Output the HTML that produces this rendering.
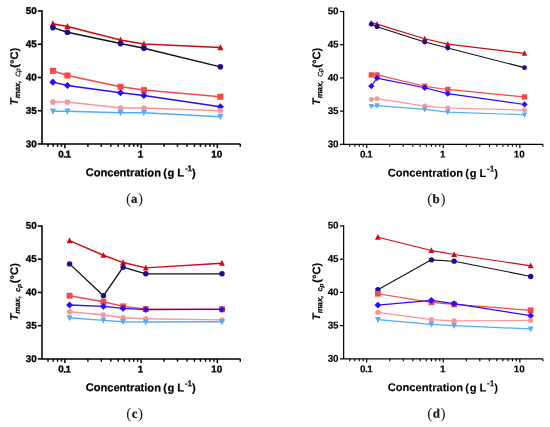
<!DOCTYPE html>
<html><head><meta charset="utf-8"><title>Figure</title>
<style>
html,body{margin:0;padding:0;background:#fff;}
body{width:550px;height:427px;overflow:hidden;}
svg{display:block;font-family:"Liberation Sans",sans-serif;}
</style></head><body>
<svg width="550" height="427" viewBox="0 0 550 427" stroke-linejoin="round">
<rect width="550" height="427" fill="#fff"/>
<g id="pa"><polyline points="52.90,23.76 67.43,26.56 120.51,39.98 143.91,44.04 220.36,47.56" fill="none" stroke="#cf0a14" stroke-width="1.52"/>
<polygon points="52.90,20.31 55.92,26.41 49.87,26.41" fill="#cf0a14"/>
<polygon points="67.43,23.10 70.45,29.20 64.40,29.20" fill="#cf0a14"/>
<polygon points="120.51,36.53 123.53,42.63 117.49,42.63" fill="#cf0a14"/>
<polygon points="143.91,40.58 146.94,46.68 140.89,46.68" fill="#cf0a14"/>
<polygon points="220.36,44.11 223.39,50.21 217.34,50.21" fill="#cf0a14"/>
<polyline points="52.90,27.62 67.43,32.27 120.51,43.57 143.91,48.23 220.36,66.84" fill="none" stroke="#111111" stroke-width="1.44"/>
<circle cx="52.90" cy="27.62" r="2.81" fill="#1d0c94"/>
<circle cx="67.43" cy="32.27" r="2.81" fill="#1d0c94"/>
<circle cx="120.51" cy="43.57" r="2.81" fill="#1d0c94"/>
<circle cx="143.91" cy="48.23" r="2.81" fill="#1d0c94"/>
<circle cx="220.36" cy="66.84" r="2.81" fill="#1d0c94"/>
<polyline points="52.90,70.83 67.43,75.48 120.51,86.78 143.91,90.11 220.36,96.75" fill="none" stroke="#f64848" stroke-width="1.52"/>
<rect x="49.87" y="67.80" width="6.05" height="6.05" fill="#f64848"/>
<rect x="64.40" y="72.46" width="6.05" height="6.05" fill="#f64848"/>
<rect x="117.49" y="83.76" width="6.05" height="6.05" fill="#f64848"/>
<rect x="140.89" y="87.08" width="6.05" height="6.05" fill="#f64848"/>
<rect x="217.34" y="93.73" width="6.05" height="6.05" fill="#f64848"/>
<polyline points="52.90,82.13 67.43,85.45 120.51,92.76 143.91,95.42 220.36,106.72" fill="none" stroke="#2b0cfa" stroke-width="1.52"/>
<polygon points="52.90,78.56 56.46,82.13 52.90,85.69 49.33,82.13" fill="#2b0cfa"/>
<polygon points="67.43,81.89 70.99,85.45 67.43,89.02 63.86,85.45" fill="#2b0cfa"/>
<polygon points="120.51,89.20 124.07,92.76 120.51,96.33 116.95,92.76" fill="#2b0cfa"/>
<polygon points="143.91,91.86 147.48,95.42 143.91,98.99 140.35,95.42" fill="#2b0cfa"/>
<polygon points="220.36,103.16 223.93,106.72 220.36,110.29 216.80,106.72" fill="#2b0cfa"/>
<polyline points="52.90,102.07 67.43,102.07 120.51,108.05 143.91,108.05 220.36,110.71" fill="none" stroke="#fd9498" stroke-width="1.52"/>
<circle cx="52.90" cy="102.07" r="2.81" fill="#fd9498"/>
<circle cx="67.43" cy="102.07" r="2.81" fill="#fd9498"/>
<circle cx="120.51" cy="108.05" r="2.81" fill="#fd9498"/>
<circle cx="143.91" cy="108.05" r="2.81" fill="#fd9498"/>
<circle cx="220.36" cy="110.71" r="2.81" fill="#fd9498"/>
<polyline points="52.90,111.24 67.43,111.24 120.51,112.71 143.91,112.71 220.36,116.70" fill="none" stroke="#55acf8" stroke-width="1.52"/>
<polygon points="52.90,114.81 55.92,108.60 49.87,108.60" fill="#55acf8"/>
<polygon points="67.43,114.81 70.45,108.60 64.40,108.60" fill="#55acf8"/>
<polygon points="120.51,116.27 123.53,110.06 117.49,110.06" fill="#55acf8"/>
<polygon points="143.91,116.27 146.94,110.06 140.89,110.06" fill="#55acf8"/>
<polygon points="220.36,120.26 223.39,114.05 217.34,114.05" fill="#55acf8"/>
<path d="M42.00,10.20 V143.95 H240.30" fill="none" stroke="#000" stroke-width="1.6"/>
<path d="M37.80,143.95 H42.00" stroke="#000" stroke-width="1.6"/>
<text x="36.60" y="147.22" transform="rotate(0.3 36.60 147.22)" text-anchor="end" font-size="9.8" font-weight="bold" stroke="#000" stroke-width="0.35">30</text>
<path d="M37.80,110.71 H42.00" stroke="#000" stroke-width="1.6"/>
<text x="36.60" y="113.92" transform="rotate(0.3 36.60 113.92)" text-anchor="end" font-size="9.8" font-weight="bold" stroke="#000" stroke-width="0.35">35</text>
<path d="M37.80,77.47 H42.00" stroke="#000" stroke-width="1.6"/>
<text x="36.60" y="80.62" transform="rotate(0.3 36.60 80.62)" text-anchor="end" font-size="9.8" font-weight="bold" stroke="#000" stroke-width="0.35">40</text>
<path d="M37.80,44.24 H42.00" stroke="#000" stroke-width="1.6"/>
<text x="36.60" y="47.33" transform="rotate(0.3 36.60 47.33)" text-anchor="end" font-size="9.8" font-weight="bold" stroke="#000" stroke-width="0.35">45</text>
<path d="M37.80,11.00 H42.00" stroke="#000" stroke-width="1.6"/>
<text x="36.60" y="14.03" transform="rotate(0.3 36.60 14.03)" text-anchor="end" font-size="9.8" font-weight="bold" stroke="#000" stroke-width="0.35">50</text>
<path d="M48.03,143.95 V146.81" stroke="#000" stroke-width="1.52"/>
<path d="M53.14,143.95 V146.81" stroke="#000" stroke-width="1.52"/>
<path d="M57.56,143.95 V146.81" stroke="#000" stroke-width="1.52"/>
<path d="M61.45,143.95 V146.81" stroke="#000" stroke-width="1.52"/>
<path d="M64.94,143.95 V148.15" stroke="#000" stroke-width="1.60"/>
<path d="M87.88,143.95 V146.81" stroke="#000" stroke-width="1.52"/>
<path d="M101.30,143.95 V146.81" stroke="#000" stroke-width="1.52"/>
<path d="M110.82,143.95 V146.81" stroke="#000" stroke-width="1.52"/>
<path d="M118.21,143.95 V146.81" stroke="#000" stroke-width="1.52"/>
<path d="M124.24,143.95 V146.81" stroke="#000" stroke-width="1.52"/>
<path d="M129.35,143.95 V146.81" stroke="#000" stroke-width="1.52"/>
<path d="M133.76,143.95 V146.81" stroke="#000" stroke-width="1.52"/>
<path d="M137.66,143.95 V146.81" stroke="#000" stroke-width="1.52"/>
<path d="M141.15,143.95 V148.15" stroke="#000" stroke-width="1.60"/>
<path d="M164.09,143.95 V146.81" stroke="#000" stroke-width="1.52"/>
<path d="M177.51,143.95 V146.81" stroke="#000" stroke-width="1.52"/>
<path d="M187.03,143.95 V146.81" stroke="#000" stroke-width="1.52"/>
<path d="M194.42,143.95 V146.81" stroke="#000" stroke-width="1.52"/>
<path d="M200.45,143.95 V146.81" stroke="#000" stroke-width="1.52"/>
<path d="M205.55,143.95 V146.81" stroke="#000" stroke-width="1.52"/>
<path d="M209.97,143.95 V146.81" stroke="#000" stroke-width="1.52"/>
<path d="M213.87,143.95 V146.81" stroke="#000" stroke-width="1.52"/>
<path d="M217.36,143.95 V148.15" stroke="#000" stroke-width="1.60"/>
<path d="M240.30,143.95 V146.81" stroke="#000" stroke-width="1.52"/>
<text x="64.34" y="157.45" transform="rotate(0.3 64.34 157.45)" text-anchor="middle" font-size="9.8" font-weight="bold" stroke="#000" stroke-width="0.35" letter-spacing="-0.5">0.1</text>
<text x="140.55" y="157.45" transform="rotate(0.3 140.55 157.45)" text-anchor="middle" font-size="9.8" font-weight="bold" stroke="#000" stroke-width="0.35">1</text>
<text x="216.76" y="157.45" transform="rotate(0.3 216.76 157.45)" text-anchor="middle" font-size="9.8" font-weight="bold" stroke="#000" stroke-width="0.35">10</text>
<text x="140.70" y="176.40" transform="rotate(0.3 140.70 176.40)" text-anchor="middle" font-size="11.12" font-weight="bold" stroke="#000" stroke-width="0.24">Concentration<tspan dx="-0.8"> (</tspan><tspan dx="0.6">g</tspan> <tspan dx="-0.15">L</tspan><tspan font-size="8.2" dy="-5.4" dx="0.85" stroke-width="0.3">-</tspan><tspan font-size="8.2" dx="-0.05">1</tspan><tspan dy="5.4" dx="-0.1">)</tspan></text>
<g transform="translate(17.80,104.55) rotate(-89.7)" font-weight="bold" stroke="#000" stroke-width="0.2"><text x="-0.6" y="0" font-size="11" font-style="italic">T</text><text x="6.3" y="2.2" font-size="7.8" font-style="italic">max,</text><text x="27.9" y="2.3" font-size="6.6" font-style="italic" font-weight="normal">Cp</text><text x="36.8" y="0" font-size="11" letter-spacing="0.12">(°C)</text></g>
<g font-family="'Liberation Serif', serif" fill="#1a1a1a" text-anchor="middle" transform="rotate(0.3 134.2 202.75)"><text x="128.5" y="203.45" font-size="15">(</text><text x="134.2" y="202.75" font-size="12.8" font-weight="bold" stroke="#1a1a1a" stroke-width="0.25">a</text><text x="140.4" y="203.45" font-size="15">)</text></g></g>
<g id="pb"><polyline points="371.35,22.83 377.05,24.16 424.70,38.76 447.78,44.07 524.50,53.37" fill="none" stroke="#cf0a14" stroke-width="1.20"/>
<polygon points="371.35,19.79 374.01,25.16 368.69,25.16" fill="#cf0a14"/>
<polygon points="377.05,21.12 379.71,26.49 374.39,26.49" fill="#cf0a14"/>
<polygon points="424.70,35.72 427.36,41.09 422.04,41.09" fill="#cf0a14"/>
<polygon points="447.78,41.03 450.44,46.40 445.12,46.40" fill="#cf0a14"/>
<polygon points="524.50,50.33 527.16,55.69 521.84,55.69" fill="#cf0a14"/>
<polyline points="371.35,24.16 377.05,26.82 424.70,42.08 447.78,48.06 524.50,67.64" fill="none" stroke="#111111" stroke-width="1.08"/>
<circle cx="371.35" cy="24.16" r="2.47" fill="#1d0c94"/>
<circle cx="377.05" cy="26.82" r="2.47" fill="#1d0c94"/>
<circle cx="424.70" cy="42.08" r="2.47" fill="#1d0c94"/>
<circle cx="447.78" cy="48.06" r="2.47" fill="#1d0c94"/>
<circle cx="524.50" cy="67.64" r="2.47" fill="#1d0c94"/>
<polyline points="371.35,74.94 377.05,74.94 424.70,86.29 447.78,89.47 524.50,96.97" fill="none" stroke="#f64848" stroke-width="1.20"/>
<rect x="368.69" y="72.28" width="5.32" height="5.32" fill="#f64848"/>
<rect x="374.39" y="72.28" width="5.32" height="5.32" fill="#f64848"/>
<rect x="422.04" y="83.63" width="5.32" height="5.32" fill="#f64848"/>
<rect x="445.12" y="86.81" width="5.32" height="5.32" fill="#f64848"/>
<rect x="521.84" y="94.31" width="5.32" height="5.32" fill="#f64848"/>
<polyline points="371.35,86.02 377.05,78.12 424.70,87.75 447.78,93.66 524.50,104.48" fill="none" stroke="#2b0cfa" stroke-width="1.20"/>
<polygon points="371.35,82.89 374.48,86.02 371.35,89.16 368.21,86.02" fill="#2b0cfa"/>
<polygon points="377.05,74.99 380.18,78.12 377.05,81.26 373.91,78.12" fill="#2b0cfa"/>
<polygon points="424.70,84.61 427.83,87.75 424.70,90.88 421.56,87.75" fill="#2b0cfa"/>
<polygon points="447.78,90.52 450.91,93.66 447.78,96.79 444.64,93.66" fill="#2b0cfa"/>
<polygon points="524.50,101.34 527.63,104.48 524.50,107.61 521.36,104.48" fill="#2b0cfa"/>
<polyline points="371.35,99.43 377.05,98.70 424.70,106.07 447.78,107.99 524.50,110.12" fill="none" stroke="#fd9498" stroke-width="1.20"/>
<circle cx="371.35" cy="99.43" r="2.47" fill="#fd9498"/>
<circle cx="377.05" cy="98.70" r="2.47" fill="#fd9498"/>
<circle cx="424.70" cy="106.07" r="2.47" fill="#fd9498"/>
<circle cx="447.78" cy="107.99" r="2.47" fill="#fd9498"/>
<circle cx="524.50" cy="110.12" r="2.47" fill="#fd9498"/>
<polyline points="371.35,106.33 377.05,105.67 424.70,109.45 447.78,112.11 524.50,114.76" fill="none" stroke="#55acf8" stroke-width="1.20"/>
<polygon points="371.35,109.47 374.01,104.01 368.69,104.01" fill="#55acf8"/>
<polygon points="377.05,108.80 379.71,103.34 374.39,103.34" fill="#55acf8"/>
<polygon points="424.70,112.59 427.36,107.13 422.04,107.13" fill="#55acf8"/>
<polygon points="447.78,115.24 450.44,109.78 445.12,109.78" fill="#55acf8"/>
<polygon points="524.50,117.90 527.16,112.44 521.84,112.44" fill="#55acf8"/>
<path d="M343.65,10.95 V144.30 H542.90" fill="none" stroke="#000" stroke-width="1.2"/>
<path d="M339.95,144.30 H343.65" stroke="#000" stroke-width="1.2"/>
<text x="338.55" y="147.22" transform="rotate(0.3 338.55 147.22)" text-anchor="end" font-size="9.8" font-weight="bold" stroke="#000" stroke-width="0.15">30</text>
<path d="M339.95,111.11 H343.65" stroke="#000" stroke-width="1.2"/>
<text x="338.55" y="113.97" transform="rotate(0.3 338.55 113.97)" text-anchor="end" font-size="9.8" font-weight="bold" stroke="#000" stroke-width="0.15">35</text>
<path d="M339.95,77.93 H343.65" stroke="#000" stroke-width="1.2"/>
<text x="338.55" y="80.73" transform="rotate(0.3 338.55 80.73)" text-anchor="end" font-size="9.8" font-weight="bold" stroke="#000" stroke-width="0.15">40</text>
<path d="M339.95,44.74 H343.65" stroke="#000" stroke-width="1.2"/>
<text x="338.55" y="47.48" transform="rotate(0.3 338.55 47.48)" text-anchor="end" font-size="9.8" font-weight="bold" stroke="#000" stroke-width="0.15">45</text>
<path d="M339.95,11.55 H343.65" stroke="#000" stroke-width="1.2"/>
<text x="338.55" y="14.23" transform="rotate(0.3 338.55 14.23)" text-anchor="end" font-size="9.8" font-weight="bold" stroke="#000" stroke-width="0.15">50</text>
<path d="M349.71,144.30 V146.82" stroke="#000" stroke-width="1.14"/>
<path d="M354.84,144.30 V146.82" stroke="#000" stroke-width="1.14"/>
<path d="M359.28,144.30 V146.82" stroke="#000" stroke-width="1.14"/>
<path d="M363.20,144.30 V146.82" stroke="#000" stroke-width="1.14"/>
<path d="M366.70,144.30 V148.00" stroke="#000" stroke-width="1.20"/>
<path d="M389.75,144.30 V146.82" stroke="#000" stroke-width="1.14"/>
<path d="M403.24,144.30 V146.82" stroke="#000" stroke-width="1.14"/>
<path d="M412.80,144.30 V146.82" stroke="#000" stroke-width="1.14"/>
<path d="M420.22,144.30 V146.82" stroke="#000" stroke-width="1.14"/>
<path d="M426.29,144.30 V146.82" stroke="#000" stroke-width="1.14"/>
<path d="M431.41,144.30 V146.82" stroke="#000" stroke-width="1.14"/>
<path d="M435.85,144.30 V146.82" stroke="#000" stroke-width="1.14"/>
<path d="M439.77,144.30 V146.82" stroke="#000" stroke-width="1.14"/>
<path d="M443.27,144.30 V148.00" stroke="#000" stroke-width="1.20"/>
<path d="M466.33,144.30 V146.82" stroke="#000" stroke-width="1.14"/>
<path d="M479.81,144.30 V146.82" stroke="#000" stroke-width="1.14"/>
<path d="M489.38,144.30 V146.82" stroke="#000" stroke-width="1.14"/>
<path d="M496.80,144.30 V146.82" stroke="#000" stroke-width="1.14"/>
<path d="M502.86,144.30 V146.82" stroke="#000" stroke-width="1.14"/>
<path d="M507.99,144.30 V146.82" stroke="#000" stroke-width="1.14"/>
<path d="M512.43,144.30 V146.82" stroke="#000" stroke-width="1.14"/>
<path d="M516.35,144.30 V146.82" stroke="#000" stroke-width="1.14"/>
<path d="M519.85,144.30 V148.00" stroke="#000" stroke-width="1.20"/>
<path d="M542.90,144.30 V146.82" stroke="#000" stroke-width="1.14"/>
<text x="366.10" y="157.50" transform="rotate(0.3 366.10 157.50)" text-anchor="middle" font-size="9.8" font-weight="bold" stroke="#000" stroke-width="0.15" letter-spacing="-0.5">0.1</text>
<text x="442.67" y="157.50" transform="rotate(0.3 442.67 157.50)" text-anchor="middle" font-size="9.8" font-weight="bold" stroke="#000" stroke-width="0.15">1</text>
<text x="519.25" y="157.50" transform="rotate(0.3 519.25 157.50)" text-anchor="middle" font-size="9.8" font-weight="bold" stroke="#000" stroke-width="0.15">10</text>
<text x="442.82" y="176.75" transform="rotate(0.3 442.82 176.75)" text-anchor="middle" font-size="11.12" font-weight="bold" stroke="#000" stroke-width="0.10">Concentration<tspan dx="-0.8"> (</tspan><tspan dx="0.6">g</tspan> <tspan dx="-0.15">L</tspan><tspan font-size="8.2" dy="-5.4" dx="0.85" stroke-width="0.3">-</tspan><tspan font-size="8.2" dx="-0.05">1</tspan><tspan dy="5.4" dx="-0.1">)</tspan></text>
<g transform="translate(319.95,104.60) rotate(-89.7)" font-weight="bold" stroke="#000" stroke-width="0.2"><text x="-0.6" y="0" font-size="11" font-style="italic">T</text><text x="6.3" y="2.2" font-size="7.8" font-style="italic">max,</text><text x="27.9" y="2.3" font-size="6.6" font-style="italic" font-weight="normal">Cp</text><text x="36.8" y="0" font-size="11" letter-spacing="0.12">(°C)</text></g>
<g font-family="'Liberation Serif', serif" fill="#1a1a1a" text-anchor="middle" transform="rotate(0.3 436.0 203.10)"><text x="429.8" y="203.80" font-size="15">(</text><text x="436.0" y="203.10" font-size="12.8" font-weight="bold" stroke="#1a1a1a" stroke-width="0.25">b</text><text x="442.9" y="203.80" font-size="15">)</text></g></g>
<g id="pc"><polyline points="69.57,240.62 103.44,255.24 123.12,262.55 145.78,267.86 221.98,263.21" fill="none" stroke="#cf0a14" stroke-width="1.42"/>
<polygon points="69.57,237.26 72.51,243.19 66.63,243.19" fill="#cf0a14"/>
<polygon points="103.44,251.88 106.38,257.81 100.50,257.81" fill="#cf0a14"/>
<polygon points="123.12,259.19 126.06,265.12 120.18,265.12" fill="#cf0a14"/>
<polygon points="145.78,264.50 148.72,270.44 142.84,270.44" fill="#cf0a14"/>
<polygon points="221.98,259.85 224.92,265.78 219.04,265.78" fill="#cf0a14"/>
<polyline points="69.57,263.88 103.44,295.77 123.12,267.20 145.78,273.84 221.98,273.84" fill="none" stroke="#111111" stroke-width="1.35"/>
<circle cx="69.57" cy="263.88" r="2.73" fill="#1d0c94"/>
<circle cx="103.44" cy="295.77" r="2.73" fill="#1d0c94"/>
<circle cx="123.12" cy="267.20" r="2.73" fill="#1d0c94"/>
<circle cx="145.78" cy="273.84" r="2.73" fill="#1d0c94"/>
<circle cx="221.98" cy="273.84" r="2.73" fill="#1d0c94"/>
<polyline points="69.57,295.77 103.44,301.75 123.12,306.40 145.78,309.06 221.98,309.26" fill="none" stroke="#f64848" stroke-width="1.42"/>
<rect x="66.63" y="292.83" width="5.88" height="5.88" fill="#f64848"/>
<rect x="100.50" y="298.81" width="5.88" height="5.88" fill="#f64848"/>
<rect x="120.18" y="303.46" width="5.88" height="5.88" fill="#f64848"/>
<rect x="142.84" y="306.12" width="5.88" height="5.88" fill="#f64848"/>
<rect x="219.04" y="306.32" width="5.88" height="5.88" fill="#f64848"/>
<polyline points="69.57,305.08 103.44,306.40 123.12,308.40 145.78,309.59 221.98,309.39" fill="none" stroke="#2b0cfa" stroke-width="1.42"/>
<polygon points="69.57,301.61 73.03,305.08 69.57,308.54 66.10,305.08" fill="#2b0cfa"/>
<polygon points="103.44,302.94 106.90,306.40 103.44,309.87 99.97,306.40" fill="#2b0cfa"/>
<polygon points="123.12,304.93 126.59,308.40 123.12,311.86 119.66,308.40" fill="#2b0cfa"/>
<polygon points="145.78,306.13 149.24,309.59 145.78,313.06 142.31,309.59" fill="#2b0cfa"/>
<polygon points="221.98,305.93 225.45,309.39 221.98,312.86 218.52,309.39" fill="#2b0cfa"/>
<polyline points="69.57,311.72 103.44,315.04 123.12,317.70 145.78,318.83 221.98,319.89" fill="none" stroke="#fd9498" stroke-width="1.42"/>
<circle cx="69.57" cy="311.72" r="2.73" fill="#fd9498"/>
<circle cx="103.44" cy="315.04" r="2.73" fill="#fd9498"/>
<circle cx="123.12" cy="317.70" r="2.73" fill="#fd9498"/>
<circle cx="145.78" cy="318.83" r="2.73" fill="#fd9498"/>
<circle cx="221.98" cy="319.89" r="2.73" fill="#fd9498"/>
<polyline points="69.57,317.70 103.44,320.36 123.12,321.69 145.78,321.95 221.98,321.82" fill="none" stroke="#55acf8" stroke-width="1.42"/>
<polygon points="69.57,321.17 72.51,315.13 66.63,315.13" fill="#55acf8"/>
<polygon points="103.44,323.82 106.38,317.79 100.50,317.79" fill="#55acf8"/>
<polygon points="123.12,325.15 126.06,319.12 120.18,319.12" fill="#55acf8"/>
<polygon points="145.78,325.42 148.72,319.38 142.84,319.38" fill="#55acf8"/>
<polygon points="221.98,325.29 224.92,319.25 219.04,319.25" fill="#55acf8"/>
<path d="M42.00,225.25 V358.90 H240.30" fill="none" stroke="#000" stroke-width="1.5"/>
<path d="M37.80,358.90 H42.00" stroke="#000" stroke-width="1.5"/>
<text x="36.60" y="361.97" transform="rotate(0.3 36.60 361.97)" text-anchor="end" font-size="9.8" font-weight="bold" stroke="#000" stroke-width="0.3">30</text>
<path d="M37.80,325.67 H42.00" stroke="#000" stroke-width="1.5"/>
<text x="36.60" y="328.68" transform="rotate(0.3 36.60 328.68)" text-anchor="end" font-size="9.8" font-weight="bold" stroke="#000" stroke-width="0.3">35</text>
<path d="M37.80,292.45 H42.00" stroke="#000" stroke-width="1.5"/>
<text x="36.60" y="295.40" transform="rotate(0.3 36.60 295.40)" text-anchor="end" font-size="9.8" font-weight="bold" stroke="#000" stroke-width="0.3">40</text>
<path d="M37.80,259.23 H42.00" stroke="#000" stroke-width="1.5"/>
<text x="36.60" y="262.12" transform="rotate(0.3 36.60 262.12)" text-anchor="end" font-size="9.8" font-weight="bold" stroke="#000" stroke-width="0.3">45</text>
<path d="M37.80,226.00 H42.00" stroke="#000" stroke-width="1.5"/>
<text x="36.60" y="228.83" transform="rotate(0.3 36.60 228.83)" text-anchor="end" font-size="9.8" font-weight="bold" stroke="#000" stroke-width="0.3">50</text>
<path d="M48.03,358.90 V361.76" stroke="#000" stroke-width="1.42"/>
<path d="M53.14,358.90 V361.76" stroke="#000" stroke-width="1.42"/>
<path d="M57.56,358.90 V361.76" stroke="#000" stroke-width="1.42"/>
<path d="M61.45,358.90 V361.76" stroke="#000" stroke-width="1.42"/>
<path d="M64.94,358.90 V363.10" stroke="#000" stroke-width="1.50"/>
<path d="M87.88,358.90 V361.76" stroke="#000" stroke-width="1.42"/>
<path d="M101.30,358.90 V361.76" stroke="#000" stroke-width="1.42"/>
<path d="M110.82,358.90 V361.76" stroke="#000" stroke-width="1.42"/>
<path d="M118.21,358.90 V361.76" stroke="#000" stroke-width="1.42"/>
<path d="M124.24,358.90 V361.76" stroke="#000" stroke-width="1.42"/>
<path d="M129.35,358.90 V361.76" stroke="#000" stroke-width="1.42"/>
<path d="M133.76,358.90 V361.76" stroke="#000" stroke-width="1.42"/>
<path d="M137.66,358.90 V361.76" stroke="#000" stroke-width="1.42"/>
<path d="M141.15,358.90 V363.10" stroke="#000" stroke-width="1.50"/>
<path d="M164.09,358.90 V361.76" stroke="#000" stroke-width="1.42"/>
<path d="M177.51,358.90 V361.76" stroke="#000" stroke-width="1.42"/>
<path d="M187.03,358.90 V361.76" stroke="#000" stroke-width="1.42"/>
<path d="M194.42,358.90 V361.76" stroke="#000" stroke-width="1.42"/>
<path d="M200.45,358.90 V361.76" stroke="#000" stroke-width="1.42"/>
<path d="M205.55,358.90 V361.76" stroke="#000" stroke-width="1.42"/>
<path d="M209.97,358.90 V361.76" stroke="#000" stroke-width="1.42"/>
<path d="M213.87,358.90 V361.76" stroke="#000" stroke-width="1.42"/>
<path d="M217.36,358.90 V363.10" stroke="#000" stroke-width="1.50"/>
<path d="M240.30,358.90 V361.76" stroke="#000" stroke-width="1.42"/>
<text x="64.34" y="372.40" transform="rotate(0.3 64.34 372.40)" text-anchor="middle" font-size="9.8" font-weight="bold" stroke="#000" stroke-width="0.3" letter-spacing="-0.5">0.1</text>
<text x="140.55" y="372.40" transform="rotate(0.3 140.55 372.40)" text-anchor="middle" font-size="9.8" font-weight="bold" stroke="#000" stroke-width="0.3">1</text>
<text x="216.76" y="372.40" transform="rotate(0.3 216.76 372.40)" text-anchor="middle" font-size="9.8" font-weight="bold" stroke="#000" stroke-width="0.3">10</text>
<text x="140.70" y="391.35" transform="rotate(0.3 140.70 391.35)" text-anchor="middle" font-size="11.12" font-weight="bold" stroke="#000" stroke-width="0.21">Concentration<tspan dx="-0.8"> (</tspan><tspan dx="0.6">g</tspan> <tspan dx="-0.15">L</tspan><tspan font-size="8.2" dy="-5.4" dx="0.85" stroke-width="0.3">-</tspan><tspan font-size="8.2" dx="-0.05">1</tspan><tspan dy="5.4" dx="-0.1">)</tspan></text>
<g transform="translate(17.80,320.00) rotate(-89.7)" font-weight="bold" stroke="#000" stroke-width="0.2"><text x="-0.6" y="0" font-size="11" font-style="italic">T</text><text x="6.3" y="2.2" font-size="7.8" font-style="italic">max,</text><text x="28.1" y="2.2" font-size="7.6" font-style="italic">c<tspan font-size="6.2" dy="1.0" dx="-0.1">p</tspan></text><text x="36.8" y="0" font-size="11" letter-spacing="0.12">(°C)</text></g>
<g font-family="'Liberation Serif', serif" fill="#1a1a1a" text-anchor="middle" transform="rotate(0.3 134.6 417.70)"><text x="128.8" y="418.40" font-size="15">(</text><text x="134.6" y="417.70" font-size="12.8" font-weight="bold" stroke="#1a1a1a" stroke-width="0.25">c</text><text x="140.4" y="418.40" font-size="15">)</text></g></g>
<g id="pd"><polyline points="377.89,237.25 431.41,250.54 454.11,254.52 530.68,265.82" fill="none" stroke="#cf0a14" stroke-width="1.20"/>
<polygon points="377.89,233.95 380.77,239.77 375.01,239.77" fill="#cf0a14"/>
<polygon points="431.41,247.24 434.30,253.06 428.53,253.06" fill="#cf0a14"/>
<polygon points="454.11,251.23 456.99,257.05 451.22,257.05" fill="#cf0a14"/>
<polygon points="530.68,262.52 533.56,268.34 527.80,268.34" fill="#cf0a14"/>
<polyline points="377.89,289.74 431.41,259.84 454.11,261.17 530.68,276.45" fill="none" stroke="#111111" stroke-width="1.08"/>
<circle cx="377.89" cy="289.74" r="2.68" fill="#1d0c94"/>
<circle cx="431.41" cy="259.84" r="2.68" fill="#1d0c94"/>
<circle cx="454.11" cy="261.17" r="2.68" fill="#1d0c94"/>
<circle cx="530.68" cy="276.45" r="2.68" fill="#1d0c94"/>
<polyline points="377.89,293.73 431.41,302.37 454.11,304.36 530.68,310.34" fill="none" stroke="#f64848" stroke-width="1.20"/>
<rect x="375.01" y="290.85" width="5.77" height="5.77" fill="#f64848"/>
<rect x="428.53" y="299.48" width="5.77" height="5.77" fill="#f64848"/>
<rect x="451.22" y="301.48" width="5.77" height="5.77" fill="#f64848"/>
<rect x="527.80" y="307.46" width="5.77" height="5.77" fill="#f64848"/>
<polyline points="377.89,305.03 431.41,300.37 454.11,303.70 530.68,315.66" fill="none" stroke="#2b0cfa" stroke-width="1.20"/>
<polygon points="377.89,301.63 381.29,305.03 377.89,308.42 374.49,305.03" fill="#2b0cfa"/>
<polygon points="431.41,296.98 434.81,300.37 431.41,303.77 428.01,300.37" fill="#2b0cfa"/>
<polygon points="454.11,300.30 457.51,303.70 454.11,307.10 450.71,303.70" fill="#2b0cfa"/>
<polygon points="530.68,312.26 534.08,315.66 530.68,319.06 527.28,315.66" fill="#2b0cfa"/>
<polyline points="377.89,312.34 431.41,319.64 454.11,320.97 530.68,320.31" fill="none" stroke="#fd9498" stroke-width="1.20"/>
<circle cx="377.89" cy="312.34" r="2.68" fill="#fd9498"/>
<circle cx="431.41" cy="319.64" r="2.68" fill="#fd9498"/>
<circle cx="454.11" cy="320.97" r="2.68" fill="#fd9498"/>
<circle cx="530.68" cy="320.31" r="2.68" fill="#fd9498"/>
<polyline points="377.89,319.64 431.41,324.30 454.11,325.62 530.68,328.95" fill="none" stroke="#55acf8" stroke-width="1.20"/>
<polygon points="377.89,323.04 380.77,317.12 375.01,317.12" fill="#55acf8"/>
<polygon points="431.41,327.69 434.30,321.77 428.53,321.77" fill="#55acf8"/>
<polygon points="454.11,329.02 456.99,323.10 451.22,323.10" fill="#55acf8"/>
<polygon points="530.68,332.35 533.56,326.42 527.80,326.42" fill="#55acf8"/>
<path d="M343.65,225.35 V358.85 H542.90" fill="none" stroke="#000" stroke-width="1.2"/>
<path d="M339.95,358.85 H343.65" stroke="#000" stroke-width="1.2"/>
<text x="338.55" y="361.77" transform="rotate(0.3 338.55 361.77)" text-anchor="end" font-size="9.8" font-weight="bold" stroke="#000" stroke-width="0.15">30</text>
<path d="M339.95,325.62 H343.65" stroke="#000" stroke-width="1.2"/>
<text x="338.55" y="328.49" transform="rotate(0.3 338.55 328.49)" text-anchor="end" font-size="9.8" font-weight="bold" stroke="#000" stroke-width="0.15">35</text>
<path d="M339.95,292.40 H343.65" stroke="#000" stroke-width="1.2"/>
<text x="338.55" y="295.20" transform="rotate(0.3 338.55 295.20)" text-anchor="end" font-size="9.8" font-weight="bold" stroke="#000" stroke-width="0.15">40</text>
<path d="M339.95,259.18 H343.65" stroke="#000" stroke-width="1.2"/>
<text x="338.55" y="261.92" transform="rotate(0.3 338.55 261.92)" text-anchor="end" font-size="9.8" font-weight="bold" stroke="#000" stroke-width="0.15">45</text>
<path d="M339.95,225.95 H343.65" stroke="#000" stroke-width="1.2"/>
<text x="338.55" y="228.63" transform="rotate(0.3 338.55 228.63)" text-anchor="end" font-size="9.8" font-weight="bold" stroke="#000" stroke-width="0.15">50</text>
<path d="M349.71,358.85 V361.37" stroke="#000" stroke-width="1.14"/>
<path d="M354.84,358.85 V361.37" stroke="#000" stroke-width="1.14"/>
<path d="M359.28,358.85 V361.37" stroke="#000" stroke-width="1.14"/>
<path d="M363.20,358.85 V361.37" stroke="#000" stroke-width="1.14"/>
<path d="M366.70,358.85 V362.55" stroke="#000" stroke-width="1.20"/>
<path d="M389.75,358.85 V361.37" stroke="#000" stroke-width="1.14"/>
<path d="M403.24,358.85 V361.37" stroke="#000" stroke-width="1.14"/>
<path d="M412.80,358.85 V361.37" stroke="#000" stroke-width="1.14"/>
<path d="M420.22,358.85 V361.37" stroke="#000" stroke-width="1.14"/>
<path d="M426.29,358.85 V361.37" stroke="#000" stroke-width="1.14"/>
<path d="M431.41,358.85 V361.37" stroke="#000" stroke-width="1.14"/>
<path d="M435.85,358.85 V361.37" stroke="#000" stroke-width="1.14"/>
<path d="M439.77,358.85 V361.37" stroke="#000" stroke-width="1.14"/>
<path d="M443.27,358.85 V362.55" stroke="#000" stroke-width="1.20"/>
<path d="M466.33,358.85 V361.37" stroke="#000" stroke-width="1.14"/>
<path d="M479.81,358.85 V361.37" stroke="#000" stroke-width="1.14"/>
<path d="M489.38,358.85 V361.37" stroke="#000" stroke-width="1.14"/>
<path d="M496.80,358.85 V361.37" stroke="#000" stroke-width="1.14"/>
<path d="M502.86,358.85 V361.37" stroke="#000" stroke-width="1.14"/>
<path d="M507.99,358.85 V361.37" stroke="#000" stroke-width="1.14"/>
<path d="M512.43,358.85 V361.37" stroke="#000" stroke-width="1.14"/>
<path d="M516.35,358.85 V361.37" stroke="#000" stroke-width="1.14"/>
<path d="M519.85,358.85 V362.55" stroke="#000" stroke-width="1.20"/>
<path d="M542.90,358.85 V361.37" stroke="#000" stroke-width="1.14"/>
<text x="366.10" y="372.35" transform="rotate(0.3 366.10 372.35)" text-anchor="middle" font-size="9.8" font-weight="bold" stroke="#000" stroke-width="0.15" letter-spacing="-0.5">0.1</text>
<text x="442.67" y="372.35" transform="rotate(0.3 442.67 372.35)" text-anchor="middle" font-size="9.8" font-weight="bold" stroke="#000" stroke-width="0.15">1</text>
<text x="519.25" y="372.35" transform="rotate(0.3 519.25 372.35)" text-anchor="middle" font-size="9.8" font-weight="bold" stroke="#000" stroke-width="0.15">10</text>
<text x="442.82" y="391.30" transform="rotate(0.3 442.82 391.30)" text-anchor="middle" font-size="11.12" font-weight="bold" stroke="#000" stroke-width="0.10">Concentration<tspan dx="-0.8"> (</tspan><tspan dx="0.6">g</tspan> <tspan dx="-0.15">L</tspan><tspan font-size="8.2" dy="-5.4" dx="0.85" stroke-width="0.3">-</tspan><tspan font-size="8.2" dx="-0.05">1</tspan><tspan dy="5.4" dx="-0.1">)</tspan></text>
<g transform="translate(319.95,319.65) rotate(-89.7)" font-weight="bold" stroke="#000" stroke-width="0.2"><text x="-0.6" y="0" font-size="11" font-style="italic">T</text><text x="6.3" y="2.2" font-size="7.8" font-style="italic">max,</text><text x="28.1" y="2.2" font-size="7.6" font-style="italic">c<tspan font-size="6.2" dy="1.0" dx="-0.1">p</tspan></text><text x="36.8" y="0" font-size="11" letter-spacing="0.12">(°C)</text></g>
<g font-family="'Liberation Serif', serif" fill="#1a1a1a" text-anchor="middle" transform="rotate(0.3 436.4 417.65)"><text x="429.7" y="418.35" font-size="15">(</text><text x="436.4" y="417.65" font-size="12.8" font-weight="bold" stroke="#1a1a1a" stroke-width="0.25">d</text><text x="443.0" y="418.35" font-size="15">)</text></g></g>
</svg>
</body></html>
